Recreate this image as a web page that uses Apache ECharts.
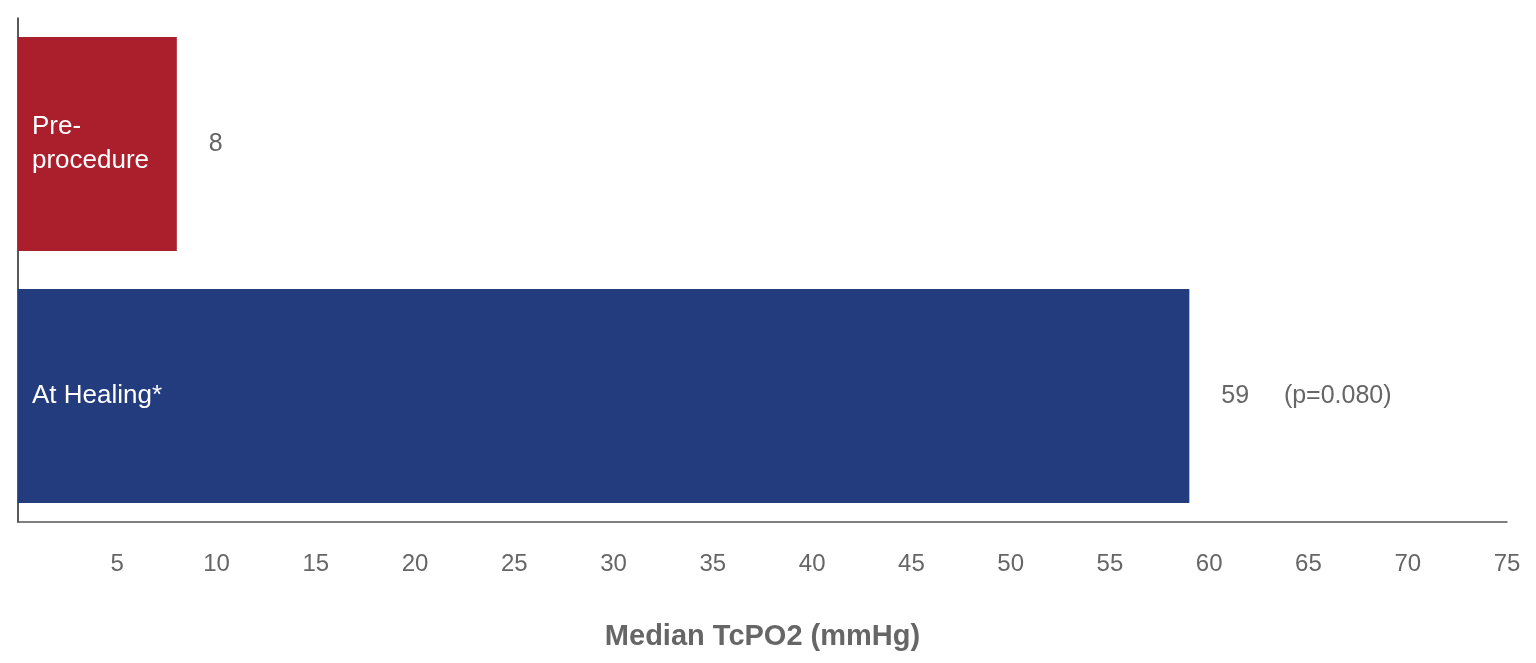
<!DOCTYPE html>
<html><head><meta charset="utf-8">
<script src="https://cdn.jsdelivr.net/npm/echarts@6/dist/echarts.min.js"></script>
<style>html,body{margin:0;padding:0;background:#fff}#c{width:1536px;height:663px}</style>
</head><body><div id="c"></div>
<script>
const categories = ['Pre-\nprocedure', 'At Healing*'];
const values = [8, 59];
const valueLabels = ['8', '59     (p=0.080)'];
const colors = ['#AB1F2C', '#233C7E'];
const chart = echarts.init(document.getElementById('c'));
chart.setOption({
  animation: false,
  grid: {left: 18, right: 29, top: 18, bottom: 141, containLabel: false},
  xAxis: {
    type: 'value', min: 0, max: 75, interval: 5,
    axisLine: {show: true, lineStyle: {color: '#555', width: 1.5}},
    axisTick: {show: false}, splitLine: {show: false},
    axisLabel: {color: '#666', fontSize: 24, fontFamily: 'Liberation Sans, Arial', margin: 30,
      formatter: v => v === 0 ? '' : String(v)},
    name: 'Median TcPO2 (mmHg)', nameLocation: 'middle', nameGap: 100,
    nameTextStyle: {color: '#666', fontSize: 29, fontWeight: 'bold', fontFamily: 'Liberation Sans, Arial'}
  },
  yAxis: {
    type: 'category', data: categories, inverse: true,
    axisLine: {show: true, lineStyle: {color: '#222', width: 1.5}},
    axisTick: {show: false}, axisLabel: {show: false}
  },
  series: [{
    type: 'bar', barCategoryGap: '15%',
    data: values.map((v, i) => ({value: v, itemStyle: {color: colors[i]}})),
    label: {show: true, position: 'insideLeft', distance: 14,
      formatter: p => categories[p.dataIndex], color: '#fff', fontSize: 26, lineHeight: 34,
      fontFamily: 'Liberation Sans, Arial'}
  }, {
    type: 'bar', barGap: '-100%', barCategoryGap: '15%', silent: true,
    data: values, itemStyle: {color: 'transparent'},
    label: {show: true, position: 'right', distance: 32,
      formatter: p => valueLabels[p.dataIndex], color: '#666', fontSize: 25,
      fontFamily: 'Liberation Sans, Arial'}
  }]
});
</script></body></html>
